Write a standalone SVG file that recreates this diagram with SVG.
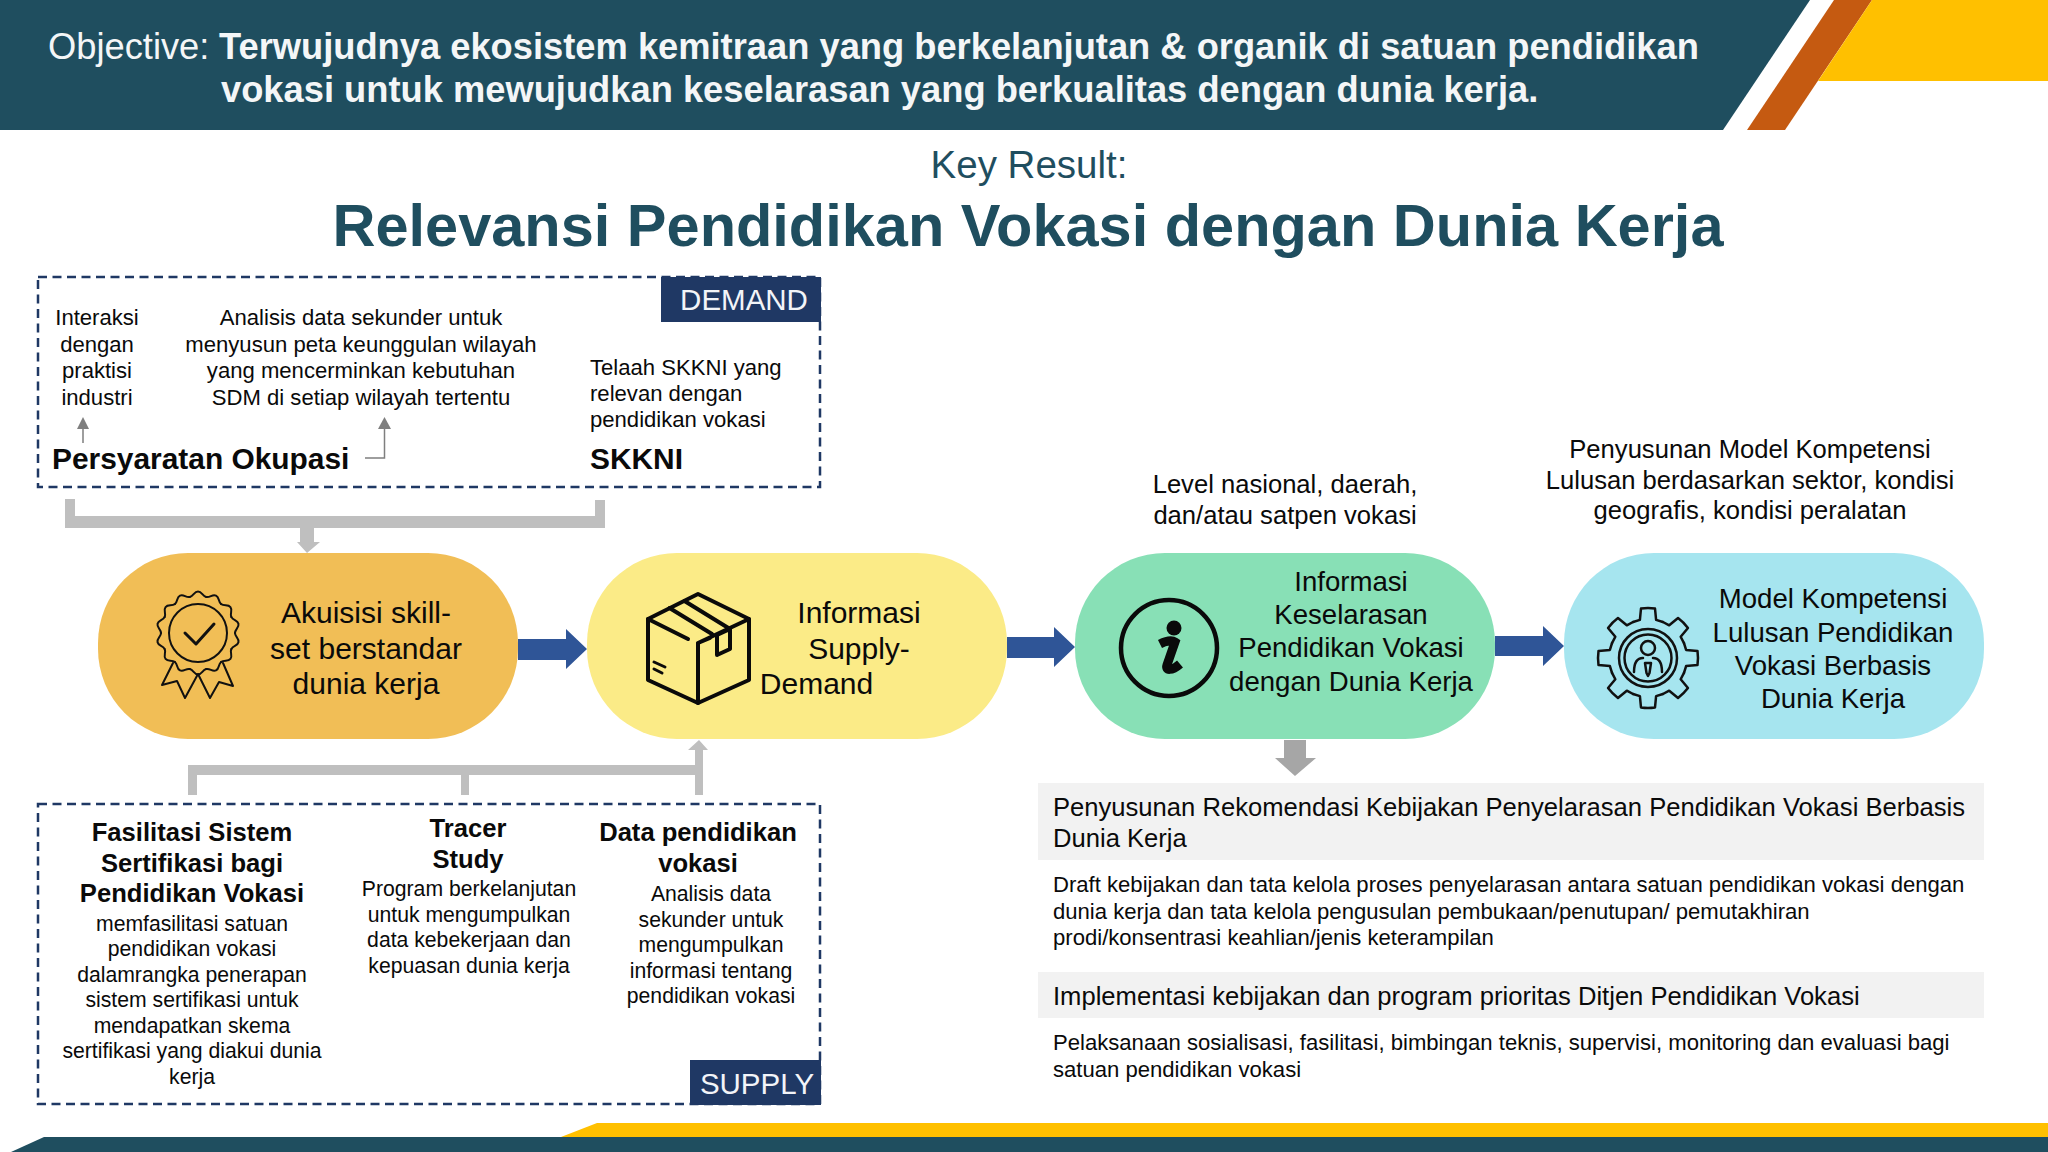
<svg xmlns="http://www.w3.org/2000/svg" xmlns:xlink="http://www.w3.org/1999/xlink" width="2048" height="1152" viewBox="0 0 2048 1152">
<style>
text{font-family:"Liberation Sans",Arial,sans-serif;fill:#0a0a0a}
.hd{font-size:36.3px;fill:#f4f6f7}
.b{font-weight:bold}
.m{text-anchor:middle}
.s21{font-size:21.2px}
.d22{font-size:22.1px}
.s29{font-size:29.9px}
.s27{font-size:25.6px}
.p30{font-size:30px;text-anchor:middle}
.p28{font-size:27.6px;text-anchor:middle}
.s26{font-size:25.6px;text-anchor:middle}
.r25{font-size:25.6px}
.r22{font-size:22.1px}
.dash{fill:none;stroke:#1f3864;stroke-width:2.5;stroke-dasharray:9 5.5}
.tag{fill:#1f3864}
.tagt{font-size:29.5px;fill:#f2f4f8;text-anchor:middle}
.brk{fill:#bfbfbf}
.flow{fill:#2f5597}
.ico{fill:none;stroke:#111;stroke-width:2;stroke-linejoin:round;stroke-linecap:round}
.ico4{fill:none;stroke:#0a0a0a;stroke-width:4;stroke-linejoin:round;stroke-linecap:round}
.thin{fill:none;stroke:#7f7f7f;stroke-width:1.5}
.tip{fill:#7f7f7f}
.band{fill:#f2f2f2}
</style>
<defs>
<path id="tooth" d="M-14.9,-36L-8.1,-38.1L-7,-49.5A50,50 0 0 1 7,-49.5L8.1,-38.1L14.9,-36"/>
<path id="wave" d="M-8.25,-36.07C-4.35,-36.96 -4,-41.5 0,-41.5C4,-41.5 4.35,-36.96 8.25,-36.07"/>
</defs>
<g id="header">
<polygon points="0,0 1810,0 1723,130 0,130" fill="#1f4e5f"/>
<polygon points="1834,0 1872,0 1785,130 1747,130" fill="#c55a11"/>
<polygon points="1872,0 2048,0 2048,81 1818,81" fill="#ffc000"/>
<text class="hd" x="48" y="59">Objective: <tspan class="b" x="219">Terwujudnya ekosistem kemitraan yang berkelanjutan &amp; organik di satuan pendidikan</tspan></text>
<text class="hd b" x="221" y="102">vokasi untuk mewujudkan keselarasan yang berkualitas dengan dunia kerja.</text>
</g>
<g id="title">
<text x="1029" y="178" class="m" font-size="38.5" style="fill:#1f4e5f">Key Result:</text>
<text x="1028" y="246" class="m b" font-size="59.5" style="fill:#1f4e5f">Relevansi Pendidikan Vokasi dengan Dunia Kerja</text>
</g>
<g id="footer">
<polygon points="561,1137 597,1123 2048,1123 2048,1137" fill="#ffc000"/>
<polygon points="11,1152 44,1137 2048,1137 2048,1152" fill="#1f4e5f"/>
</g>
<g id="demand">
<rect class="dash" x="38" y="277" width="782" height="210"/>
<rect class="tag" x="661" y="277" width="160" height="45"/>
<text class="tagt" x="744" y="310">DEMAND</text>
<text class="d22 m" x="97" y="325">Interaksi</text>
<text class="d22 m" x="97" y="352">dengan</text>
<text class="d22 m" x="97" y="378">praktisi</text>
<text class="d22 m" x="97" y="405">industri</text>
<text class="d22 m" x="361" y="325">Analisis data sekunder untuk</text>
<text class="d22 m" x="361" y="352">menyusun peta keunggulan wilayah</text>
<text class="d22 m" x="361" y="378">yang mencerminkan kebutuhan</text>
<text class="d22 m" x="361" y="405">SDM di setiap wilayah tertentu</text>
<text class="d22" x="590" y="375">Telaah SKKNI yang</text>
<text class="d22" x="590" y="401">relevan dengan</text>
<text class="d22" x="590" y="427">pendidikan vokasi</text>
<text class="s29 b" x="52" y="469">Persyaratan Okupasi</text>
<text class="s29 b" x="590" y="469">SKKNI</text>
<path class="thin" d="M83,443V428M365,458H384.5V428"/>
<polygon class="tip" points="83,417 89,429 77,429"/>
<polygon class="tip" points="384.5,417 391,429 378,429"/>
</g>
<g id="supply">
<rect class="dash" x="38" y="804" width="782" height="300"/>
<rect class="tag" x="690" y="1060" width="131" height="45"/>
<text class="tagt" x="757" y="1094">SUPPLY</text>
<text class="s27 b m" x="192" y="841">Fasilitasi Sistem</text>
<text class="s27 b m" x="192" y="872">Sertifikasi bagi</text>
<text class="s27 b m" x="192" y="902">Pendidikan Vokasi</text>
<text class="s21 m" x="192" y="931">memfasilitasi satuan</text>
<text class="s21 m" x="192" y="956">pendidikan vokasi</text>
<text class="s21 m" x="192" y="982">dalamrangka penerapan</text>
<text class="s21 m" x="192" y="1007">sistem sertifikasi untuk</text>
<text class="s21 m" x="192" y="1033">mendapatkan skema</text>
<text class="s21 m" x="192" y="1058">sertifikasi yang diakui dunia</text>
<text class="s21 m" x="192" y="1084">kerja</text>
<text class="s27 b m" x="468" y="837">Tracer</text>
<text class="s27 b m" x="468" y="868">Study</text>
<text class="s21 m" x="469" y="896">Program berkelanjutan</text>
<text class="s21 m" x="469" y="922">untuk mengumpulkan</text>
<text class="s21 m" x="469" y="947">data kebekerjaan dan</text>
<text class="s21 m" x="469" y="973">kepuasan dunia kerja</text>
<text class="s27 b m" x="698" y="841">Data pendidikan</text>
<text class="s27 b m" x="698" y="872">vokasi</text>
<text class="s21 m" x="711" y="901">Analisis data</text>
<text class="s21 m" x="711" y="927">sekunder untuk</text>
<text class="s21 m" x="711" y="952">mengumpulkan</text>
<text class="s21 m" x="711" y="978">informasi tentang</text>
<text class="s21 m" x="711" y="1003">pendidikan vokasi</text>
</g>
<g id="connectors">
<path class="brk" d="M65,499H75V516H595V500H605V528H314V542H320L307,553L297,542H300V528H65Z"/>
<path class="brk" d="M188,765H695V750H688L699,740L708,750H703V795H695V775H469V795H461V775H197V795H188Z"/>
<polygon class="flow" points="518,639 566,639 566,629 587,649 566,669 566,660 518,660"/>
<polygon class="flow" points="1007,637 1054,637 1054,627 1075,647 1054,667 1054,658 1007,658"/>
<polygon class="flow" points="1495,636 1543,636 1543,626 1564,646 1543,666 1543,656 1495,656"/>
<polygon points="1284,740 1306,740 1306,758 1316,758 1295,776 1275,758 1284,758" fill="#a6a6a6"/>
</g>
<g id="node-akuisisi">
<rect x="98" y="553" width="420" height="186" rx="90" fill="#f1be56"/>
<g class="ico" transform="translate(198,633)">
<use href="#wave"/><use href="#wave" transform="rotate(25.714)"/><use href="#wave" transform="rotate(51.429)"/><use href="#wave" transform="rotate(77.143)"/><use href="#wave" transform="rotate(102.857)"/><use href="#wave" transform="rotate(128.571)"/><use href="#wave" transform="rotate(154.286)"/><use href="#wave" transform="rotate(180)"/><use href="#wave" transform="rotate(205.714)"/><use href="#wave" transform="rotate(231.429)"/><use href="#wave" transform="rotate(257.143)"/><use href="#wave" transform="rotate(282.857)"/><use href="#wave" transform="rotate(308.571)"/><use href="#wave" transform="rotate(334.286)"/>
<ellipse rx="29" ry="29"/>
<path d="M-13,0L-2,11L16,-9" stroke-width="3"/>
<path d="M-25,30L-36,52L-21,48L-13,65L0,41L12,65L21,49L35,53L25,30"/>
</g>
<text class="p30" x="366" y="623">Akuisisi skill-</text>
<text class="p30" x="366" y="659">set berstandar</text>
<text class="p30" x="366" y="694">dunia kerja</text>
</g>
<g id="node-informasi">
<rect x="587" y="553" width="420" height="186" rx="90" fill="#fbeb87"/>
<g class="ico4">
<path d="M698,594L749,619V680L698,703L648,680V619Z"/>
<path d="M648,619L688,639M698,643V703M698,643L749,619M698,643L710,638"/>
<path d="M669.5,608L712,634M684.5,601L730,629L717,635V655L730,649V629"/>
<path d="M654,662L665,667M654,669L662,673" stroke-width="3"/>
</g>
<text class="p30" x="859" y="623">Informasi</text>
<text class="p30" x="859" y="659">Supply-</text>
<text class="p30" x="816.5" y="694">Demand</text>
</g>
<g id="node-keselarasan">
<rect x="1075" y="553" width="420" height="186" rx="90" fill="#88e0b6"/>
<circle cx="1169" cy="648" r="48" fill="none" stroke="#0a0a0a" stroke-width="4.5"/>
<circle cx="1174" cy="628" r="7.5" fill="#0a0a0a"/>
<path d="M1160,644C1166,641 1172,640 1175,642L1167,665C1165,671 1172,671 1180,664" fill="none" stroke="#0a0a0a" stroke-width="9"/>
<text class="p28" x="1351" y="591">Informasi</text>
<text class="p28" x="1351" y="624">Keselarasan</text>
<text class="p28" x="1351" y="657">Pendidikan Vokasi</text>
<text class="p28" x="1351" y="691">dengan Dunia Kerja</text>
</g>
<g id="node-model">
<rect x="1564" y="553" width="420" height="186" rx="90" fill="#a6e5ef"/>
<g class="ico" transform="translate(1648,658)" style="stroke-width:2.5">
<use href="#tooth"/><use href="#tooth" transform="rotate(45)"/><use href="#tooth" transform="rotate(90)"/><use href="#tooth" transform="rotate(135)"/><use href="#tooth" transform="rotate(180)"/><use href="#tooth" transform="rotate(225)"/><use href="#tooth" transform="rotate(270)"/><use href="#tooth" transform="rotate(315)"/>
<circle r="29"/>
<circle r="23.5"/>
<circle cx="0" cy="-10" r="7"/>
<path d="M-14,14C-14,2 -9,0 -5,0M14,14C14,2 9,0 5,0M-3,5H3L1.5,15L0,18L-1.5,15Z"/>
</g>
<text class="p28" x="1833" y="608">Model Kompetensi</text>
<text class="p28" x="1833" y="642">Lulusan Pendidikan</text>
<text class="p28" x="1833" y="675">Vokasi Berbasis</text>
<text class="p28" x="1833" y="708">Dunia Kerja</text>
</g>
<g id="note-level">
<text class="s26" x="1285" y="493">Level nasional, daerah,</text>
<text class="s26" x="1285" y="524">dan/atau satpen vokasi</text>
</g>
<g id="note-penyusunan">
<text class="s26" x="1750" y="458">Penyusunan Model Kompetensi</text>
<text class="s26" x="1750" y="489">Lulusan berdasarkan sektor, kondisi</text>
<text class="s26" x="1750" y="519">geografis, kondisi peralatan</text>
</g>
<g id="rekomendasi">
<rect class="band" x="1038" y="783" width="946" height="77"/>
<text class="r25" x="1053" y="816">Penyusunan Rekomendasi Kebijakan Penyelarasan Pendidikan Vokasi Berbasis</text>
<text class="r25" x="1053" y="847">Dunia Kerja</text>
<text class="r22" x="1053" y="892">Draft kebijakan dan tata kelola proses penyelarasan antara satuan pendidikan vokasi dengan</text>
<text class="r22" x="1053" y="919">dunia kerja dan tata kelola pengusulan pembukaan/penutupan/ pemutakhiran</text>
<text class="r22" x="1053" y="945">prodi/konsentrasi keahlian/jenis keterampilan</text>
</g>
<g id="implementasi">
<rect class="band" x="1038" y="972" width="946" height="46"/>
<text class="r25" x="1053" y="1005">Implementasi kebijakan dan program prioritas Ditjen Pendidikan Vokasi</text>
<text class="r22" x="1053" y="1050">Pelaksanaan sosialisasi, fasilitasi, bimbingan teknis, supervisi, monitoring dan evaluasi bagi</text>
<text class="r22" x="1053" y="1077">satuan pendidikan vokasi</text>
</g>
</svg>
